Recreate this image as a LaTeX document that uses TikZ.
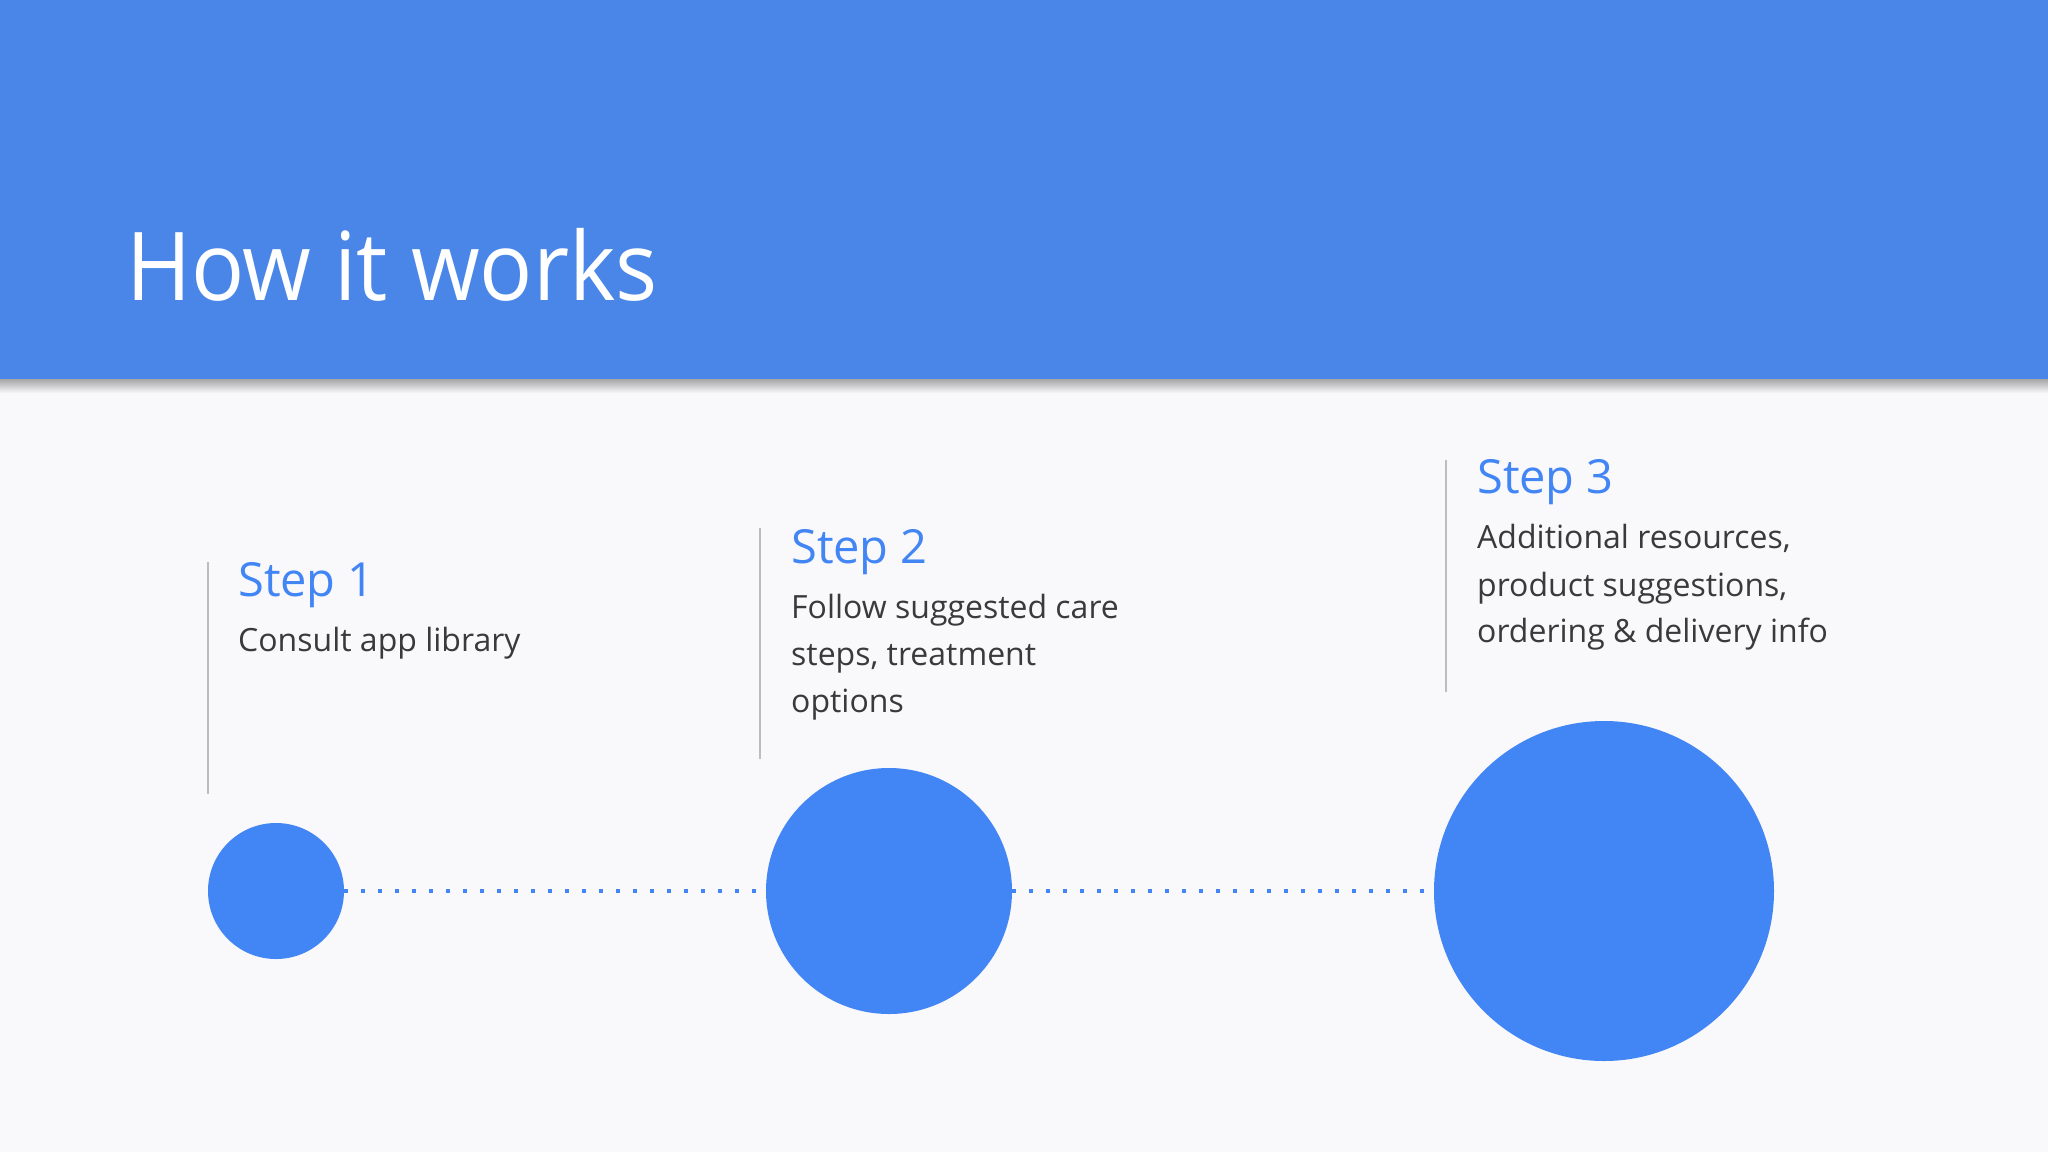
\documentclass[tikz,border=0pt]{standalone}
\usepackage{fontspec}
\setmainfont{Open Sans}
\newfontfamily\titlefont[FakeStretch=0.93]{Open Sans}
\definecolor{bgc}{HTML}{F9F8FB}
\definecolor{headc}{HTML}{4A86E8}
\definecolor{dotc}{HTML}{4285F4}
\definecolor{stepc}{HTML}{4285F4}
\definecolor{bodyc}{HTML}{3A3A3C}
\definecolor{rulec}{HTML}{BDBDBD}
\begin{document}
\begin{tikzpicture}[x=1pt,y=-1pt,
  dotcircle/.style={circle,fill=dotc,inner sep=0pt,minimum size=#1},
  steplabel/.style={anchor=base west,inner sep=0pt,text=stepc,font=\fontsize{47}{56}\selectfont},
  bodytext/.style={anchor=base west,inner sep=0pt,text=bodyc,font=\fontsize{32}{47}\selectfont},
  rulevert/.style={draw=rulec,line width=2pt},
  dotline/.style={draw=dotc,line width=4pt,dash pattern=on 4pt off 13pt}]
\useasboundingbox (0,0) rectangle (2048,1152);
\fill[bgc] (0,0) rectangle (2048,1152);
\fill[headc] (0,0) rectangle (2048,379);
\shade[top color=black!35,bottom color=bgc] (0,379) rectangle (2048,393);
\node[anchor=base west,inner sep=0pt,text=white,font=\titlefont\fontsize{95}{110}\selectfont] (title) at (126,300) {How it works};

% circles
\node[dotcircle=136pt] (c1) at (276,891) {};
\node[dotcircle=246pt] (c2) at (889,891) {};
\node[dotcircle=340pt] (c3) at (1604,891) {};
\draw[dotline] (c1.east) -- (c2.west);
\draw[dotline] (c2.east) -- (c3.west);

% vertical rules
\coordinate (r1t) at (208,562); \coordinate (r1b) at (208,794);
\coordinate (r2t) at (760,528); \coordinate (r2b) at (760,759);
\coordinate (r3t) at (1446,460); \coordinate (r3b) at (1446,692);
\draw[rulevert] (r1t) -- (r1b);
\draw[rulevert] (r2t) -- (r2b);
\draw[rulevert] (r3t) -- (r3b);

% step 1
\node[steplabel] (s1) at (238,596) {Step 1};
\node[bodytext] (s1a) at (238,651) {Consult app library};
% step 2
\node[steplabel] (s2) at (791,563) {Step 2};
\node[bodytext] (s2a) at (791,618) {Follow suggested care};
\node[bodytext] (s2b) at (791,665) {steps, treatment};
\node[bodytext] (s2c) at (791,712) {options};
% step 3
\node[steplabel] (s3) at (1477,493) {Step 3};
\node[bodytext] (s3a) at (1477,548) {Additional resources,};
\node[bodytext] (s3b) at (1477,596) {product suggestions,};
\node[bodytext] (s3c) at (1477,642) {ordering \& delivery info};
\end{tikzpicture}
\end{document}
